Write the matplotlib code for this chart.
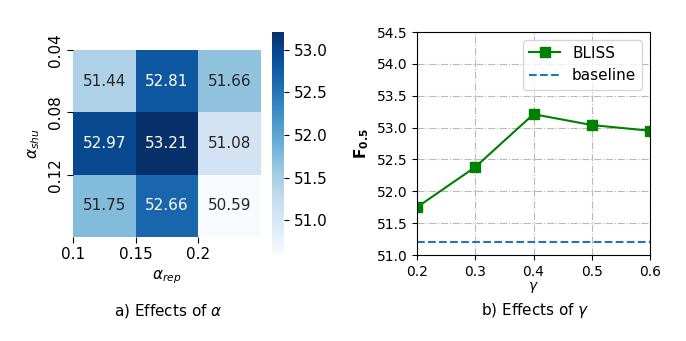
import matplotlib
matplotlib.use("Agg")
import matplotlib.pyplot as plt
import numpy as np
import seaborn as sns

alpha_rep = ["0.1", "0.15", "0.2"]
alpha_shu = ["0.04", "0.08", "0.12"]
heat_values = [[51.44, 52.81, 51.66],
               [52.97, 53.21, 51.08],
               [51.75, 52.66, 50.59]]

gamma = [0.2, 0.3, 0.4, 0.5, 0.6]
bliss = [51.75, 52.38, 53.21, 53.04, 52.95]
baseline = 51.2

W, H = 686, 341
fig = plt.figure(figsize=(W / 100, H / 100), dpi=100)

def rect(x0, y0, x1, y1):
    return [x0 / W, 1 - y1 / H, (x1 - x0) / W, (y1 - y0) / H]

ax1 = fig.add_axes(rect(73, 50, 261, 237))
cax = fig.add_axes(rect(272, 32, 284, 255))
sns.heatmap(np.array(heat_values), ax=ax1, cbar_ax=cax, cmap="Blues", annot=True,
            fmt=".2f", annot_kws={"fontsize": 11})
ax1.set_aspect("auto")
ax1.set_position(rect(73, 50, 261, 237))
ax1.set_xticks(np.arange(len(alpha_rep)))
ax1.set_xticklabels(alpha_rep, rotation=0, fontsize=11)
ax1.set_yticks(np.arange(len(alpha_shu)))
ax1.set_yticklabels(alpha_shu, rotation=90, va="center", fontsize=11)
ax1.tick_params(length=4)
ax1.set_xlabel(r"$\alpha_{rep}$", fontsize=11)
ax1.set_ylabel(r"$\alpha_{shu}$", fontsize=11)
cax.tick_params(labelsize=11)
cax.set_yticks([51.0, 51.5, 52.0, 52.5, 53.0])

ax2 = fig.add_axes(rect(417, 32, 650, 255))
ax2.plot(gamma, bliss, color="green", marker="s", markersize=7, linewidth=1.5, label="BLISS")
ax2.axhline(baseline, color="tab:blue", linestyle="--", linewidth=1.5, label="baseline")
ax2.set_xlim(0.2, 0.6)
ax2.set_ylim(51.0, 54.5)
ax2.set_xticks(gamma)
ax2.set_yticks(np.arange(51.0, 54.51, 0.5))
ax2.tick_params(labelsize=10)
ax2.grid(True, linestyle="-.", color="#b8b8b8", linewidth=0.8)
ax2.set_xlabel(r"$\gamma$", fontsize=10, labelpad=1)
ax2.set_ylabel(r"$\mathbf{F_{0.5}}$", fontsize=11)
ax2.legend(loc="upper right", fontsize=11)

fig.text(168 / W, 1 - 311 / H, r"a) Effects of $\alpha$", ha="center", va="center", fontsize=11)
fig.text(535 / W, 1 - 311 / H, r"b) Effects of $\gamma$", ha="center", va="center", fontsize=11)

fig.savefig("out.png", dpi=100)
